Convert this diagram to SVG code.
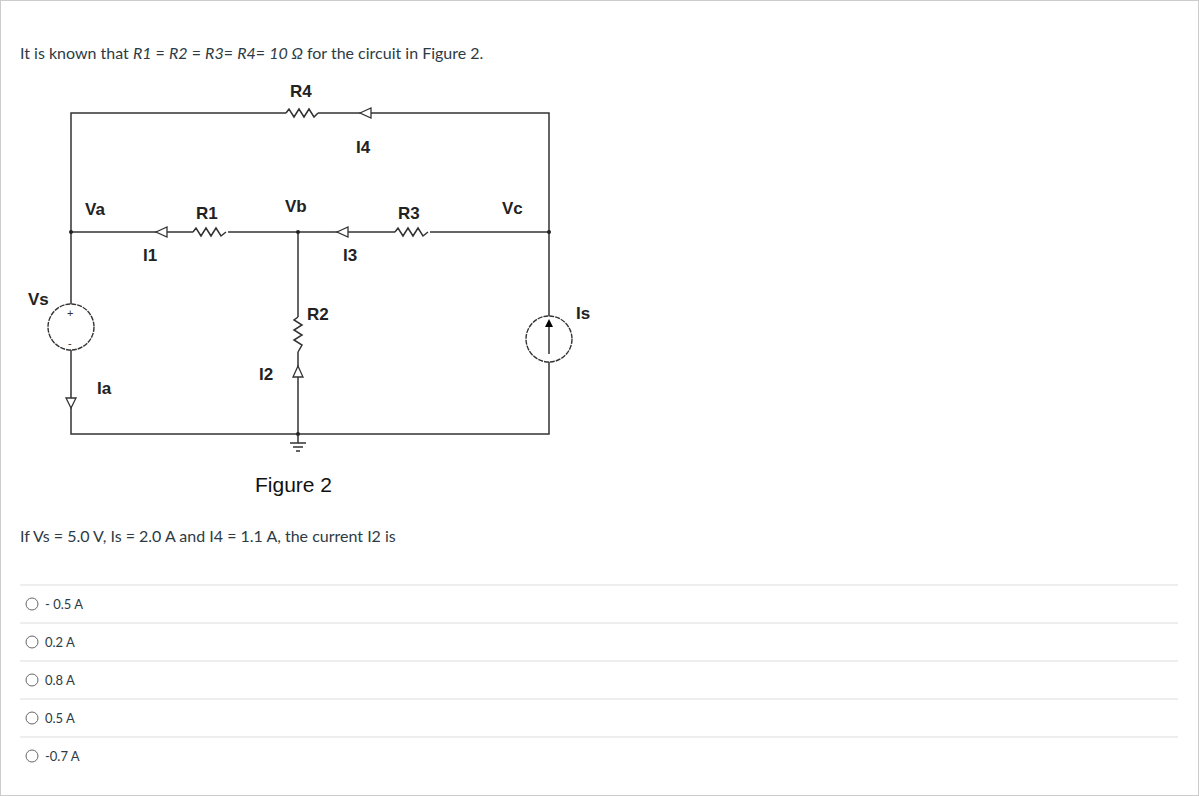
<svg xmlns="http://www.w3.org/2000/svg" width="1199" height="796" viewBox="0 0 1199 796">
<style>
.w{fill:none;stroke:#333;stroke-width:1.5}
.t{font-family:Lato,"Liberation Sans",sans-serif;font-size:16px;fill:#2d3b45}
.o{font-family:Lato,"Liberation Sans",sans-serif;font-size:13px;fill:#2d3b45}
.c{font-family:"Liberation Sans",Arial,sans-serif;font-weight:bold;font-size:17px;fill:#222}
.sep{stroke:#ddd;stroke-width:1}
.rb{fill:#fff;stroke:#666;stroke-width:1}
.arr{fill:#fff;stroke:#333;stroke-width:1.3}
.src{fill:#fff;stroke:#333;stroke-width:1.4;stroke-dasharray:5,1}
</style>
<rect x="0.5" y="0.5" width="1198" height="795" fill="#fff" stroke="#ccc"/>
<text class="t" x="20" y="59">It is known that <tspan font-style="italic">R1</tspan> = <tspan font-style="italic">R2</tspan> = <tspan font-style="italic">R3</tspan>= <tspan font-style="italic">R4</tspan>= <tspan font-style="italic">10 Ω</tspan> for the circuit in Figure 2.</text>
<g id="wires">
<path class="w" d="M71 232V113H286M318 113H549V434H71V350M71 304V232H193M228 232H395M430 232H549M298 232V317M298 352V434"/>
</g>
<g id="R4"><path class="w" d="M286 113l3 -4 5 8 5 -8 5 8 5 -8 5 8 4 -4"/><text class="c" x="290" y="97">R4</text></g>
<g id="R1"><path class="w" d="M193 232l3 -4 5 8 5 -8 5 8 5 -8 5 8 5 -4"/><text class="c" x="196" y="219">R1</text></g>
<g id="R3"><path class="w" d="M395 232l3 -4 5 8 5 -8 5 8 5 -8 5 8 5 -4"/><text class="c" x="398" y="219">R3</text></g>
<g id="R2"><path class="w" d="M298 317l-4 3 8 5 -8 5 8 5 -8 5 8 5 -4 7"/><text class="c" x="307" y="320">R2</text></g>
<g id="Vs"><circle class="src" cx="71" cy="327" r="23"/><text x="67" y="317" font-family="Liberation Sans,sans-serif" font-size="11" fill="#333">+</text><text x="68" y="347" font-family="Liberation Sans,sans-serif" font-size="11" fill="#333">-</text><text class="c" x="28" y="305">Vs</text></g>
<g id="Is"><circle class="src" cx="549" cy="339" r="23"/><path d="M549 354V327" stroke="#333" stroke-width="1.5"/><path d="M549 319l-4 8h8z" fill="#000"/><text class="c" x="576" y="319">Is</text></g>
<g id="nodes"><circle cx="71" cy="232" r="2" fill="#222"/><circle cx="298" cy="232" r="2" fill="#222"/><circle cx="549" cy="232" r="2" fill="#222"/><circle cx="298" cy="434" r="2" fill="#222"/>
<text class="c" x="85" y="215">Va</text><text class="c" x="285" y="212">Vb</text><text class="c" x="502" y="214">Vc</text></g>
<g id="ground"><path class="w" d="M298 434V443M290 443H306M293 447H303M296 451H300"/></g>
<g id="arrows">
<path class="arr" d="M360 113l11 -5v10z"/><text class="c" x="356" y="153">I4</text>
<path class="arr" d="M156 232l11 -5v10z"/><text class="c" x="143" y="261">I1</text>
<path class="arr" d="M337 232l11 -5v10z"/><text class="c" x="343" y="261">I3</text>
<path class="arr" d="M298 366l-5 11h10z"/><text class="c" x="259" y="380">I2</text>
<path class="arr" d="M71 408l-5 -10h10z"/><text class="c" x="97" y="394">Ia</text>
</g>
<text x="255" y="492" font-family="Liberation Sans,Arial,sans-serif" font-size="21" fill="#111">Figure 2</text>
<text class="t" x="20" y="542">If Vs = 5.0 V, Is = 2.0 A and I4 = 1.1 A, the current I2 is</text>
<g id="options">
<line class="sep" x1="20" y1="585" x2="1178" y2="585"/><line class="sep" x1="20" y1="623" x2="1178" y2="623"/><line class="sep" x1="20" y1="661" x2="1178" y2="661"/><line class="sep" x1="20" y1="699" x2="1178" y2="699"/><line class="sep" x1="20" y1="737" x2="1178" y2="737"/>
<circle class="rb" cx="32" cy="604" r="6"/><text class="o" x="45" y="609">- 0.5 A</text>
<circle class="rb" cx="32" cy="642" r="6"/><text class="o" x="45" y="647">0.2 A</text>
<circle class="rb" cx="32" cy="680" r="6"/><text class="o" x="45" y="685">0.8 A</text>
<circle class="rb" cx="32" cy="718" r="6"/><text class="o" x="45" y="723">0.5 A</text>
<circle class="rb" cx="32" cy="756" r="6"/><text class="o" x="45" y="761">-0.7 A</text>
</g>
</svg>
